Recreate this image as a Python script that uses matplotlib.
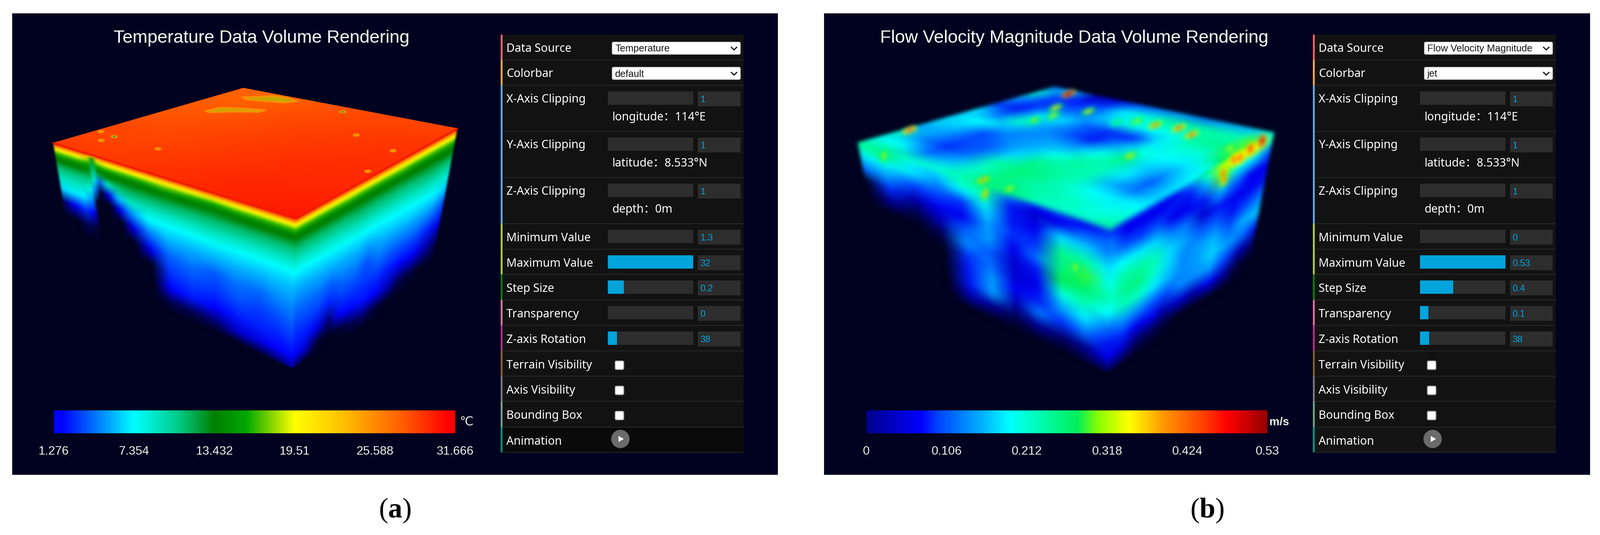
import matplotlib

matplotlib.use("Agg")

import matplotlib.pyplot as plt
import numpy as np
from matplotlib.colors import LinearSegmentedColormap, Normalize, to_rgb
from matplotlib.markers import MarkerStyle
from matplotlib.patches import Circle, FancyBboxPatch, Polygon, Rectangle
from matplotlib.transforms import Affine2D

WIDTH, HEIGHT = 4196, 1404
BG = "#00021f"
PANEL_BG = "#121212"
BLUE = "#02a4dc"

# ---- control panel ----
ROW_LABELS = ["Data Source", "Colorbar", "X-Axis Clipping", "Y-Axis Clipping", "Z-Axis Clipping",
              "Minimum Value", "Maximum Value", "Step Size", "Transparency", "Z-axis Rotation",
              "Terrain Visibility", "Axis Visibility", "Bounding Box", "Animation"]
ROW_TOPS = [91, 157, 224, 345, 466, 587, 654, 720, 787, 854, 921, 987, 1053, 1121, 1187]
ROW_COLORS = ["#ef6262", "#f2a348", "#5fa6d9", "#5fa6d9", "#5fa6d9", "#a9c93f", "#a9c93f", "#0b780b",
              "#dc6f9c", "#ad2f7e", "#7f5c2e", "#77727a", "#6f9f85", "#00917c"]
CLIP_NOTES = ["longitude\uff1a114\u00b0E", "latitude\uff1a8.533\u00b0N", "depth\uff1a0m"]
CLIP_VALUES = ["1", "1", "1"]

A_SOURCE, A_COLORBAR = "Temperature", "default"
A_SLIDER_TEXT = ["1.3", "32", "0.2", "0", "38"]
A_SLIDER_FILL = [0.0, 1.0, 0.187, 0.0, 0.106]
B_SOURCE, B_COLORBAR = "Flow Velocity Magnitude", "jet"
B_SLIDER_TEXT = ["0", "0.53", "0.4", "0.1", "38"]
B_SLIDER_FILL = [0.0, 1.0, 0.388, 0.1, 0.106]

# ---- colour bars ----
A_TICKS = ["1.276", "7.354", "13.432", "19.51", "25.588", "31.666"]
B_TICKS = ["0", "0.106", "0.212", "0.318", "0.424", "0.53"]
A_STOPS = [0.0, 0.02, 0.11, 0.2, 0.31, 0.4, 0.48, 0.6, 0.72, 0.88, 0.985, 1.0]
A_COLORS = ["#0000ff", "#0000ff", "#0080ff", "#00ffff", "#00cc88", "#007f00", "#00a800", "#ffff00",
            "#ffc000", "#ff5500", "#ff0000", "#ff0000"]
B_STOPS = [0.0, 0.137, 0.18, 0.29, 0.357, 0.41, 0.526, 0.58, 0.656, 0.743, 0.845, 0.9, 1.0]
B_COLORS = ["#00008c", "#0000ff", "#0046ff", "#00b4ff", "#00ffff", "#00ffc8", "#00f05a", "#8cff00",
            "#ffff00", "#ff9600", "#ff3c00", "#ff0000", "#960000"]

# ---- temperature volume (deg C), -4 means nothing rendered ----
A_DEPTHS = [0, 0.015, 0.03, 0.05, 0.08, 0.11, 0.14, 0.20, 0.28, 0.36, 0.46, 0.58, 0.70, 0.82, 0.92, 1]
A_LEFT_COLS = [0, 0.05, 0.10, 0.135, 0.155, 0.175, 0.21, 0.25, 0.30, 0.37, 0.45, 0.55, 0.65, 0.75, 0.85, 0.93, 1]
A_LEFT = [
    [31, 31, 31, 31, 31, 31, 31, 31, 31, 31, 31, 31, 31, 31, 31, 31, 31],
    [27.5, 27.5, 27.5, 27, 22, 27, 27.5, 27.5, 27.5, 27.5, 27.5, 27.5, 27.5, 27.5, 27.5, 27.5, 27.5],
    [23.5, 23.5, 23.5, 22, 14, 22, 23.5, 23.5, 23.5, 23.5, 23.5, 23.5, 23.5, 23.5, 23.5, 23.5, 23.5],
    [19.5, 19.5, 19.5, 18, 12.5, 18.5, 19.5, 19.5, 19.5, 19.5, 20, 19.5, 19, 19.5, 19.5, 19.5, 19.5],
    [16.5, 16.5, 16.5, 16, 12, 16, 16.5, 16.5, 16.5, 16.5, 17, 16.5, 16, 16.5, 16.5, 16.5, 16.5],
    [14, 14, 14, 14, 11, 13.5, 14, 14, 14, 14, 14.5, 14, 13.8, 14, 14, 14, 14],
    [13.4, 13.4, 13.4, 13, 10, 12.5, 13.4, 13.4, 13.4, 13.4, 13.6, 13.4, 13.2, 13.4, 13.4, 13.4, 13.4],
    [11, 11, 11, 11, 8.5, 4, 9, 11, 11.5, 11.5, 11.5, 11.3, 11.3, 11.3, 11.3, 11.3, 11.3],
    [9, 9, 9, 8, 4, -4, 1, 6, 9, 9.2, 9.2, 9.2, 9.4, 9.2, 9.2, 9.2, 9.2],
    [6.5, 7, 7, 5, -4, -4, -4, 1, 5, 7.4, 7.4, 7.4, 7.6, 7.4, 7.4, 7.4, 7.4],
    [-1, 1, 3, 1.5, -4, -4, -4, -4, 0.8, 4.5, 5.8, 5.8, 5.8, 5.9, 5.8, 6, 6],
    [-4, -4, -2, -3, -4, -4, -4, -4, -4, 1, 4, 4.4, 3.8, 4.4, 4.2, 4.8, 5],
    [-4, -4, -4, -4, -4, -4, -4, -4, -4, -4, 3, 3.4, 3, 3.6, 3.2, 3.6, 4],
    [-4, -4, -4, -4, -4, -4, -4, -4, -4, -4, 1.5, 2.4, 1.6, 2.4, 2.6, 2.6, 3],
    [-4, -4, -4, -4, -4, -4, -4, -4, -4, -4, -2, -2, -1, 0.5, 0.8, 1.8, 2],
    [-4, -4, -4, -4, -4, -4, -4, -4, -4, -4, -4, -4, -4, -4, -3, -1.5, 0],
]
A_RIGHT_COLS = [0, 0.08, 0.17, 0.25, 0.33, 0.42, 0.5, 0.58, 0.67, 0.75, 0.83, 0.92, 1]
A_RIGHT = [
    [31, 31, 31, 31, 31, 31, 31, 31, 31, 31, 31, 31, 31],
    [27.5, 27.5, 27.5, 27.5, 27.5, 27.5, 27.5, 27.5, 27.5, 27.5, 27.5, 27.5, 27.5],
    [23.5, 23.5, 23.5, 23.5, 23.5, 23.5, 23.5, 23.5, 23.5, 23.5, 23.5, 23.5, 23.5],
    [19.5, 19.5, 19.5, 19.5, 19.5, 19.5, 19.5, 19.5, 19.5, 19.5, 19.5, 19.5, 19.5],
    [16.5, 16.5, 16.5, 16.5, 16.8, 16.5, 16.5, 16.5, 16.8, 16.5, 16.5, 16.5, 16.5],
    [14, 14, 14, 14, 14.2, 14, 14, 14, 14.2, 14, 14, 14, 14],
    [13.4, 13.4, 13.4, 13.4, 13.4, 13.4, 13.4, 13.4, 13.4, 13.4, 13.4, 13.4, 13.4],
    [11.3, 11.3, 11.3, 11.3, 11.3, 11.5, 11.3, 11.3, 11.3, 11.3, 11.5, 11.3, 11],
    [9.2, 9.2, 9.2, 9.2, 9.2, 9.4, 9.2, 9.2, 9.2, 9.2, 9.4, 9.2, 8.6],
    [7.4, 7.4, 7.4, 7.4, 7.4, 7.5, 7.4, 7.4, 7.4, 7.4, 7.4, 7.2, 6.4],
    [5.8, 5.8, 5.8, 5.8, 5.8, 5.8, 5.4, 5.8, 5.8, 5.8, 5.6, 5.2, 3.6],
    [4.6, 4.4, 4.4, 4, 4.4, 4.4, 3.6, 4.4, 4, 3.8, 3.6, 2.6, 0.8],
    [3.4, 3.4, 3.2, 2.6, 3.2, 3.2, 3, 3, 2.4, 2, 1.2, 0, -2],
    [2.6, 2.4, 1, -1, 1.5, 2, 2.2, 1.5, 0.2, -2, -3, -4, -4],
    [1.5, 0.6, -3, -4, -3.5, -2, -1, -3, -4, -4, -4, -4, -4],
    [-1, -4, -4, -4, -4, -4, -4, -4, -4, -4, -4, -4, -4],
]
A_TOP_COLS = [0, 0.17, 0.33, 0.5, 0.67, 0.83, 1]
A_TOP_ROWS = [0, 0.17, 0.33, 0.5, 0.67, 0.83, 1]
A_TOP = [
    [29, 28.5, 28.5, 28, 27.8, 27.5, 27.5],
    [29, 28.8, 28.6, 28.3, 28, 27.6, 27.3],
    [29.3, 29, 28.8, 28.7, 28.4, 28.2, 27.8],
    [29.6, 29.4, 29.2, 29, 28.8, 28.6, 28.2],
    [29.8, 29.7, 29.5, 29.3, 29, 28.8, 28.5],
    [30, 29.8, 29.7, 29.5, 29.3, 29, 28.6],
    [30.4, 30, 29.8, 29.6, 29.4, 29.2, 28.8],
]
# islands and shoals on the sea surface, as (along back edge, towards front)
A_ISLAND_1 = [(0.90, 0.085), (0.98, 0.165), (0.985, 0.22), (0.97, 0.28), (0.93, 0.25), (0.90, 0.167), (0.885, 0.11)]
A_ISLAND_2 = [(0.68, 0.105), (0.745, 0.113), (0.78, 0.17), (0.82, 0.26), (0.785, 0.255), (0.735, 0.183), (0.672, 0.123)]
A_SHOAL_U = [0.955, 0.22, 0.15, 0.22, 0.77, 0.71, 0.5, 0.23]
A_SHOAL_V = [0.50, 0.08, 0.08, 0.265, 0.71, 0.92, 0.96, 0.015]

# ---- velocity volume (cm/s) ----
B_TOP_AXIS = [0, 0.1, 0.2, 0.3, 0.4, 0.5, 0.6, 0.7, 0.8, 0.9, 1]
B_TOP = [
    [24, 20, 22, 15, 17, 17, 18, 10, 14, 22, 12],
    [25, 19, 13, 14, 16, 19, 12, 8, 9, 10, 16],
    [22, 12, 9, 10, 10, 15, 22, 17, 11, 8, 5],
    [21, 15, 12, 11, 13, 13, 14, 17, 12, 10, 6],
    [23, 22, 23, 17, 15, 14, 11, 11, 16, 18, 10],
    [26, 26, 26, 25, 20, 14, 8, 9, 21, 21, 12],
    [26, 24, 25, 24, 24, 20, 14, 9, 19, 24, 13],
    [23, 23, 22, 23, 23, 25, 21, 18, 20, 24, 12],
    [22, 22, 19, 15, 18, 17, 19, 21, 24, 24, 14],
    [22, 20, 18, 12, 11, 14, 18, 21, 25, 23, 15],
    [24, 21, 19, 17, 18, 19, 20, 28, 30, 30, 20],
]
# hot spots too small for the grids above: position on the face and speed
B_TOP_SPOT_U = [0.96, 0.245, 0.80, 0.835, 0.64, 0.72, 0.55, 0.85, 0.85, 0.80, 0.87, 0.84, 0.03, 0.03, 0.80]
B_TOP_SPOT_V = [0.10, 0.015, 0.18, 0.295, 0.22, 0.235, 0.70, 0.58, 0.50, 0.45, 0.67, 0.75, 0.475, 0.58, 0.95]
B_TOP_SPOT_SPEED = [50, 44, 36, 35, 31, 33, 36, 40, 32, 27, 42, 42, 38, 34, 34]
B_LEFT_SPOT_U = [0.50, 0.10, 0.86]
B_LEFT_SPOT_V = [0.07, 0.04, 0.37]
B_LEFT_SPOT_SPEED = [37, 33, 32]
B_RIGHT_SPOT_U = [0.70, 0.71, 0.76, 0.80, 0.86, 0.93]
B_RIGHT_SPOT_V = [0.08, 0.13, 0.03, 0.04, 0.02, 0.01]
B_RIGHT_SPOT_SPEED = [42, 40, 44, 44, 46, 50]

B_DEPTHS = [0, 0.05, 0.1, 0.2, 0.3, 0.4, 0.5, 0.6, 0.7, 0.8, 0.9, 1]
B_LEFT = [
    [24, 25, 22, 21, 23, 26, 26, 22, 22, 22, 24],
    [22, 26, 18, 16, 22, 24, 11, 7, 8, 7, 9],
    [18, 20, 18, 14, 18, 22, 8, 6, 7, 10, 11],
    [12, 14, 10, 10, 9, 17, 8, 7, 17, 16, 13],
    [0, 9, 5, 7, 7, 14, 9, 9, 25, 24, 18],
    [0, 4, 2, 5, 11, 14, 7, 12, 26, 29, 20],
    [0, 0, 0, 2, 13, 11, 6, 8, 28, 27, 23],
    [0, 0, 0, 0, 9, 12, 6, 7, 21, 23, 19],
    [0, 0, 0, 0, 8, 14, 7, 8, 14, 18, 12],
    [0, 0, 0, 0, 8, 14, 5, 12, 9, 12, 8],
    [0, 0, 0, 0, 5, 4, 2, 4, 3, 4, 7],
    [0, 0, 0, 0, 0, 0, 0, 0, 0, 1, 2],
]
B_RIGHT = [
    [24, 21, 19, 17, 18, 20, 26, 32, 34, 36, 20],
    [9, 7, 7, 7, 7, 11, 22, 32, 34, 34, 22],
    [12, 7, 7, 7, 8, 8, 15, 30, 20, 18, 12],
    [14, 11, 10, 11, 7, 7, 8, 15, 11, 7, 7],
    [18, 19, 18, 17, 13, 12, 6, 8, 7, 7, 8],
    [20, 24, 24, 23, 17, 14, 11, 11, 8, 10, 13],
    [22, 25, 26, 22, 17, 13, 14, 15, 11, 15, 16],
    [19, 23, 22, 18, 15, 13, 14, 17, 14, 12, 8],
    [12, 14, 13, 11, 10, 13, 13, 14, 10, 5, 3],
    [8, 9, 7, 7, 5, 6, 5, 7, 5, 1, 0],
    [7, 6, 3, 2, 1, 0, 0, 0, 0, 0, 0],
    [2, 1, 0, 0, 0, 0, 0, 0, 0, 0, 0],
]
B_SIDE_COLS = [0, 0.1, 0.2, 0.3, 0.4, 0.5, 0.6, 0.7, 0.8, 0.9, 1]
B_VOLUME_STOPS = [0, 3, 7, 10, 15, 19, 22, 28, 31, 35, 39, 45, 48, 53]
B_VOLUME_COLORS = [BG, "#000070", "#0000f0", "#0046ff", "#00b4ff", "#00ffff", "#00ffc8", "#00f05a", "#8cff00",
                   "#ffff00", "#ff9600", "#ff3c00", "#ff0000", "#960000"]

# ---- box corners on the canvas ----
A_BOX = {"L": (140, 375), "B": (638, 231), "R": (1199, 337), "F": (776, 573),
         "LB": (196, 705), "FB": (768, 965), "RB": (1120, 760)}
B_BOX = {"L": (2250, 374), "B": (2765, 228), "R": (3341, 348), "F": (2912, 593),
         "LB": (2315, 705), "FB": (2904, 975), "RB": (3262, 760)}


def px(size):
    """Font size in points for a size in pixels at dpi 100."""
    return size * 0.72


def soft_focus(sigma):
    """Agg filter that blurs a whole layer, as the renderer's trilinear sampling does."""
    radius = int(3 * sigma)
    kernel = np.exp(-0.5 * (np.arange(-radius, radius + 1) / sigma) ** 2)
    kernel /= kernel.sum()

    def apply(image, dpi):
        padded = np.pad(image, ((radius, radius), (radius, radius), (0, 0)))
        alpha = padded[..., 3:]
        stack = np.concatenate([padded[..., :3] * alpha, alpha], axis=2)
        for axis in (0, 1):
            stack = np.apply_along_axis(lambda line: np.convolve(line, kernel, mode="same"), axis, stack)
        alpha = np.clip(stack[..., 3:], 1e-4, 1)
        out = np.concatenate([np.clip(stack[..., :3] / alpha, 0, 1), stack[..., 3:]], axis=2)
        return np.clip(out, 0, 1), -radius, -radius

    return apply


def make_layer(fig, zorder, sigma=None):
    layer = fig.add_axes([0, 0, 1, 1], zorder=zorder)
    layer.set_xlim(0, WIDTH)
    layer.set_ylim(HEIGHT, 0)
    layer.set_autoscale_on(False)
    layer.axis("off")
    layer.patch.set_visible(False)
    if sigma:
        layer.set_agg_filter(soft_focus(sigma))
    return layer


def face_mesh(c00, c01, c10, c11, cols, rows):
    """Bilinear grid through the corners of one face of the box."""
    u, v = np.meshgrid(np.asarray(cols, dtype=float), np.asarray(rows, dtype=float))
    c00, c01, c10, c11 = (np.array(c, dtype=float) for c in (c00, c01, c10, c11))
    x = (1 - v) * ((1 - u) * c00[0] + u * c01[0]) + v * ((1 - u) * c10[0] + u * c11[0])
    y = (1 - v) * ((1 - u) * c00[1] + u * c01[1]) + v * ((1 - u) * c10[1] + u * c11[1])
    return x, y


def left_mesh(box, cols, rows):
    return face_mesh(box["L"], box["F"], box["LB"], box["FB"], cols, rows)


def right_mesh(box, cols, rows):
    return face_mesh(box["F"], box["R"], box["FB"], box["RB"], cols, rows)


def top_mesh(box, cols, rows):
    return face_mesh(box["L"], box["B"], box["F"], box["R"], cols, rows)


def draw_temperature(fig, cmap, norm):
    sides = make_layer(fig, 1, sigma=2.5)
    x, y = left_mesh(A_BOX, A_LEFT_COLS, A_DEPTHS)
    sides.pcolormesh(x, y, np.array(A_LEFT), cmap=cmap, norm=norm, shading="gouraud")
    x, y = right_mesh(A_BOX, A_RIGHT_COLS, A_DEPTHS)
    sides.pcolormesh(x, y, np.array(A_RIGHT), cmap=cmap, norm=norm, shading="gouraud")

    top = make_layer(fig, 2)
    x, y = top_mesh(A_BOX, A_TOP_COLS, A_TOP_ROWS)
    top.pcolormesh(x, y, np.array(A_TOP), cmap=cmap, norm=norm, shading="gouraud")
    edge_x, edge_y = zip(A_BOX["L"], A_BOX["F"], A_BOX["R"])
    top.plot(edge_x, edge_y, color="#ff1500", lw=2.4, solid_joinstyle="miter")

    for island in (A_ISLAND_1, A_ISLAND_2):
        pts = []
        for u, v in island:
            x, y = top_mesh(A_BOX, [u], [v])
            pts.append((x[0, 0], y[0, 0]))
        top.add_patch(Polygon(pts, closed=True, fc="#c4ac00", ec="#ff9000", lw=3, alpha=0.95))
    sx, sy = [], []
    for u, v in zip(A_SHOAL_U, A_SHOAL_V):
        x, y = top_mesh(A_BOX, [u], [v])
        sx.append(x[0, 0])
        sy.append(y[0, 0])
    wide = MarkerStyle("o", transform=Affine2D().scale(1.6, 0.8))
    top.scatter(sx, sy, s=70, marker=wide, c="#f09000", lw=0)
    top.scatter(sx[:2], sy[:2], s=14, marker="o", c="#00b030", lw=0)


def draw_spots(layer, mesh, us, vs, speeds, cmap, norm, marker):
    sx, sy = [], []
    for u, v in zip(us, vs):
        x, y = mesh(B_BOX, [u], [v])
        sx.append(x[0, 0])
        sy.append(y[0, 0])
    speeds = np.array(speeds, dtype=float)
    layer.scatter(sx, sy, s=300, marker=marker, c=speeds * 0.8, cmap=cmap, norm=norm, lw=0)
    layer.scatter(sx, sy, s=90, marker=marker, c=speeds, cmap=cmap, norm=norm, lw=0)


def draw_velocity(fig, cmap, norm):
    layer = make_layer(fig, 3, sigma=5)
    x, y = left_mesh(B_BOX, B_SIDE_COLS, B_DEPTHS)
    layer.pcolormesh(x, y, np.array(B_LEFT), cmap=cmap, norm=norm, shading="gouraud")
    x, y = right_mesh(B_BOX, B_SIDE_COLS, B_DEPTHS)
    layer.pcolormesh(x, y, np.array(B_RIGHT), cmap=cmap, norm=norm, shading="gouraud")
    x, y = top_mesh(B_BOX, B_TOP_AXIS, B_TOP_AXIS)
    layer.pcolormesh(x, y, np.array(B_TOP), cmap=cmap, norm=norm, shading="gouraud")

    # the small hot spots get their own softer layer so they blend into the faces
    spots = make_layer(fig, 4, sigma=6)
    flat = MarkerStyle("o", transform=Affine2D().scale(1.7, 0.6).rotate_deg(22))
    tall = MarkerStyle("o", transform=Affine2D().scale(0.7, 1.5).rotate_deg(-15))
    draw_spots(spots, top_mesh, B_TOP_SPOT_U, B_TOP_SPOT_V, B_TOP_SPOT_SPEED, cmap, norm, flat)
    draw_spots(spots, left_mesh, B_LEFT_SPOT_U, B_LEFT_SPOT_V, B_LEFT_SPOT_SPEED, cmap, norm, tall)
    draw_spots(spots, right_mesh, B_RIGHT_SPOT_U, B_RIGHT_SPOT_V, B_RIGHT_SPOT_SPEED, cmap, norm, tall)


def draw_colorbar(ax, x0, x1, cmap, ticks, unit, unit_x, unit_kw):
    gradient = np.linspace(0, 1, 512).reshape(1, -1)
    ax.imshow(gradient, extent=(x0, x1, 1137, 1077), cmap=cmap, aspect="auto", zorder=2)
    for label, x in zip(ticks, np.linspace(x0, x1, len(ticks))):
        ax.text(x, 1193, label, color="#f0f0f0", ha="center", va="baseline",
                fontsize=px(32), family="Liberation Sans")
    ax.text(unit_x, 1116, unit, color="#eeeeee", ha="left", va="baseline", **unit_kw)


def draw_select(ax, ox, top, text):
    ax.add_patch(FancyBboxPatch((1607 + ox, top + 21), 333, 29, boxstyle="round,pad=2,rounding_size=4",
                                fc="white", ec="#999999", lw=0.8, zorder=3))
    ax.text(1613 + ox, top + 44.5, text, color="#111111", fontsize=px(25.5), va="baseline",
            family="Liberation Sans", zorder=4)
    ax.plot([1918 + ox, 1925 + ox, 1932 + ox], [top + 33, top + 40, top + 33], color="#111111", lw=2.2, zorder=4)


def draw_slider(ax, ox, top, fill, value):
    ax.add_patch(Rectangle((1594 + ox, top + 16), 224, 35, fc="#2d2d2d", lw=0, zorder=3))
    if fill > 0:
        ax.barh(top + 33.5, 224 * fill, height=35, left=1594 + ox, color=BLUE, lw=0, zorder=4)
    ax.add_patch(Rectangle((1830 + ox, top + 16), 112, 39, fc="#2d2d2d", lw=0, zorder=3))
    ax.text(1836 + ox, top + 44, value, color=BLUE, fontsize=px(24), va="baseline",
            family="Liberation Sans", zorder=4)


def draw_controls(ax, ox, source, colorbar, slider_text, slider_fill, last_row_bg):
    ax.add_patch(Rectangle((1313 + ox, 91), 637, 1096, fc=PANEL_BG, lw=0, zorder=1))
    ax.add_patch(Rectangle((1318 + ox, 1121), 632, 66, fc=last_row_bg, lw=0, zorder=1))
    for i, label in enumerate(ROW_LABELS):
        top, bottom = ROW_TOPS[i], ROW_TOPS[i + 1]
        ax.add_patch(Rectangle((1313 + ox, top), 5, bottom - top, fc=ROW_COLORS[i], lw=0, zorder=2))
        ax.plot([1318 + ox, 1950 + ox], [bottom, bottom], color="#2a2a2a", lw=1.4, zorder=2)
        baseline = top + (44.5 if i < 5 else 46)
        ax.text(1328 + ox, baseline, label, color="white", fontsize=px(30), va="baseline",
                family="Noto Sans", zorder=4)
    draw_select(ax, ox, ROW_TOPS[0], source)
    draw_select(ax, ox, ROW_TOPS[1], colorbar)
    for i, (note, value) in enumerate(zip(CLIP_NOTES, CLIP_VALUES)):
        top = ROW_TOPS[2 + i]
        draw_slider(ax, ox, top, 0, value)
        ax.text(1605 + ox, top + 92, note, color="white", fontsize=px(30), va="baseline",
                family=["Noto Sans", "Noto Sans CJK SC"], zorder=4)
    for i in range(5):
        draw_slider(ax, ox, ROW_TOPS[5 + i], slider_fill[i], slider_text[i])
    for i in range(3):
        ax.add_patch(FancyBboxPatch((1614 + ox, ROW_TOPS[10 + i] + 27), 21, 21,
                                    boxstyle="round,pad=1,rounding_size=4", fc="white", ec="#8a8a8a",
                                    lw=1.6, zorder=4))
    top = ROW_TOPS[13]
    ax.add_patch(Circle((1627 + ox, top + 31), 24, fc="#6b6b6b", lw=0, zorder=4))
    ax.add_patch(Polygon([(1622 + ox, top + 23), (1636 + ox, top + 31), (1622 + ox, top + 39)],
                         closed=True, fc="white", lw=0, zorder=5))


def main():
    plt.rcParams["mathtext.fontset"] = "custom"
    plt.rcParams["mathtext.rm"] = "Liberation Serif"
    plt.rcParams["mathtext.bf"] = "Liberation Serif:bold"

    fig = plt.figure(figsize=(WIDTH / 100, HEIGHT / 100), dpi=100, facecolor="white")
    ax = fig.add_axes([0, 0, 1, 1], zorder=0)

    ax.add_patch(Rectangle((32, 35), 2008, 1211, fc=BG, lw=0, zorder=0))
    ax.add_patch(Rectangle((2161, 35), 2009, 1211, fc=BG, lw=0, zorder=0))

    a_bar = LinearSegmentedColormap.from_list("default_bar", list(zip(A_STOPS, A_COLORS)), N=512)
    b_bar = LinearSegmentedColormap.from_list("jet_bar", list(zip(B_STOPS, B_COLORS)), N=512)

    # the rendered volumes fade into the background below the colour bar range
    a_low, a_high = 1.276, 31.666
    a_values = [-4, -1] + [a_low + s * (a_high - a_low) for s in A_STOPS]
    a_colors = [BG, "#000070"] + A_COLORS
    a_norm = Normalize(-4, a_high)
    a_volume = LinearSegmentedColormap.from_list(
        "a_volume", [(a_norm(v), to_rgb(c)) for v, c in zip(a_values, a_colors)], N=1024)
    b_norm = Normalize(0, 53)
    b_volume = LinearSegmentedColormap.from_list(
        "b_volume", [(b_norm(v), to_rgb(c)) for v, c in zip(B_VOLUME_STOPS, B_VOLUME_COLORS)], N=1024)

    draw_temperature(fig, a_volume, a_norm)
    draw_velocity(fig, b_volume, b_norm)

    ax.text(686, 112, "Temperature Data Volume Rendering", color="white", ha="center", va="baseline",
            fontsize=px(47), family="Liberation Sans")
    ax.text(2817, 112, "Flow Velocity Magnitude Data Volume Rendering", color="white", ha="center", va="baseline",
            fontsize=px(47), family="Liberation Sans")

    draw_colorbar(ax, 141, 1194, a_bar, A_TICKS, "\u2103", 1206,
                  {"fontsize": px(32), "family": ["Liberation Sans", "DejaVu Sans"]})
    draw_colorbar(ax, 2272, 3324, b_bar, B_TICKS, "m/s", 3329,
                  {"fontsize": px(30), "family": "Liberation Sans", "fontweight": "bold"})

    draw_controls(ax, 0, A_SOURCE, A_COLORBAR, A_SLIDER_TEXT, A_SLIDER_FILL, "#0a0a0a")
    draw_controls(ax, 2130, B_SOURCE, B_COLORBAR, B_SLIDER_TEXT, B_SLIDER_FILL, "#141414")

    ax.text(1036, 1358, r"$\mathrm{(}\mathbf{a}\mathrm{)}$", color="black", ha="center", va="baseline", fontsize=px(74))
    ax.text(3166, 1358, r"$\mathrm{(}\mathbf{b}\mathrm{)}$", color="black", ha="center", va="baseline", fontsize=px(74))

    ax.set_xlim(0, WIDTH)
    ax.set_ylim(HEIGHT, 0)
    ax.axis("off")
    fig.savefig("out.png", dpi=100, facecolor="white")
    plt.close(fig)


if __name__ == "__main__":
    main()
